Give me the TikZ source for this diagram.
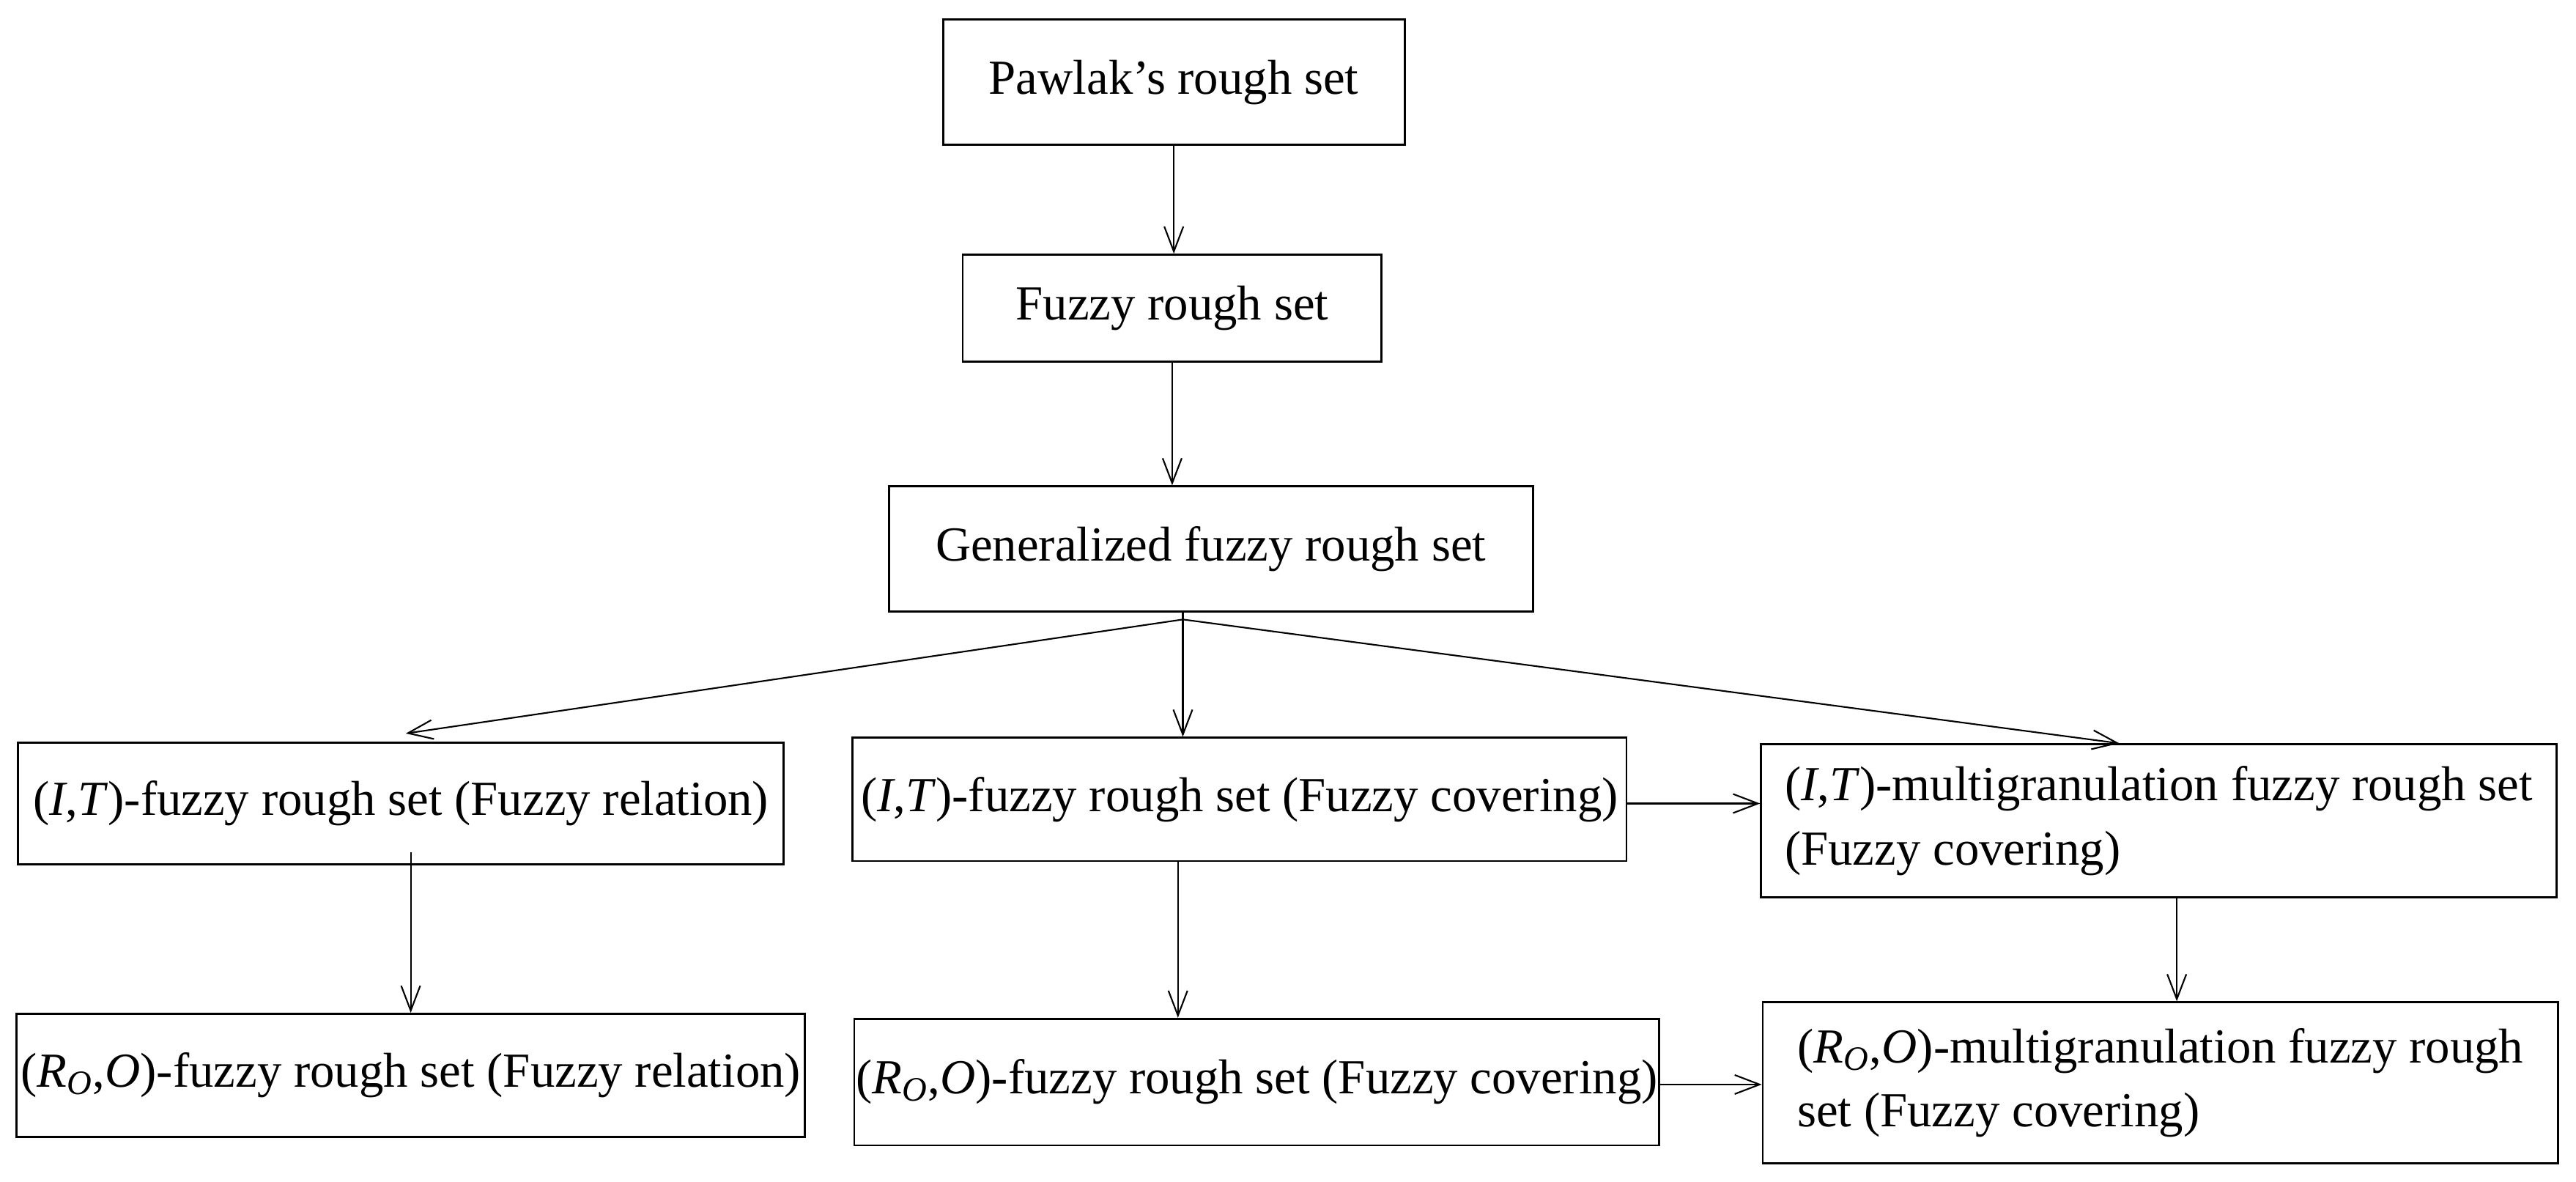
\documentclass[tikz,border=0pt]{standalone}
\usepackage{fontspec}
\setmainfont{Liberation Serif}
\usetikzlibrary{arrows.meta}

\begin{document}
\begin{tikzpicture}[x=0.02242cm, y=-0.02242cm,
  box/.style={draw, line width=0.8pt, inner sep=0pt, font=\fontsize{19}{25}\selectfont},
  arr/.style={line width=0.6pt, -{Straight Barb[length=3.4mm, width=2.6mm]}}]
\useasboundingbox (0,0) rectangle (1568,719);
% top chain
\node[box, minimum width=281*0.02242cm, minimum height=76*0.02242cm] (paw) at (714.5,50) {Pawlak’s rough set};
\node[box, minimum width=255*0.02242cm, minimum height=65*0.02242cm] (fuz) at (713.5,187.5) {Fuzzy rough set};
\node[box, minimum width=392*0.02242cm, minimum height=76*0.02242cm] (gen) at (737,334) {Generalized fuzzy rough set};
% (I,T) row
\node[box, minimum width=466*0.02242cm, minimum height=74*0.02242cm] (itr) at (244,489) {(\textit{I},\textit{T})-fuzzy rough set (Fuzzy relation)};
\node[box, minimum width=471*0.02242cm, minimum height=75*0.02242cm] (itc) at (754.5,486.5) {(\textit{I},\textit{T})-fuzzy rough set (Fuzzy covering)};
\node[box, align=left, minimum width=484*0.02242cm, minimum height=93*0.02242cm] (itm) at (1314,499.5) {(\textit{I},\textit{T})-multigranulation fuzzy rough set\\(Fuzzy covering)};
% (R_O,O) row
\node[box, minimum width=480*0.02242cm, minimum height=75*0.02242cm] (ror) at (250,654.5) {(\textit{R}\textsubscript{\textit{O}},\textit{O})-fuzzy rough set (Fuzzy relation)};
\node[box, minimum width=490*0.02242cm, minimum height=77*0.02242cm] (roc) at (765,658.5) {(\textit{R}\textsubscript{\textit{O}},\textit{O})-fuzzy rough set (Fuzzy covering)};
\node[box, align=left, minimum width=484*0.02242cm, minimum height=98*0.02242cm] (rom) at (1315,659) {(\textit{R}\textsubscript{\textit{O}},\textit{O})-multigranulation fuzzy rough\\set (Fuzzy covering)};
\coordinate (br) at (720,377);
% connectors
\draw[arr] (paw.south) -- (paw.south |- fuz.north);
\draw[arr] (fuz.south) -- (fuz.south |- gen.north);
\draw[line width=0.6pt] (gen.south -| br) -- (br);
\draw[arr] (br) -- ([xshift=3*0.02242cm, yshift=5*0.02242cm]itr.north);
\draw[arr] (br) -- (br |- itc.north);
\draw[arr] (br) -- ([xshift=-24*0.02242cm]itm.north);
\draw[arr] ([yshift=8*0.02242cm]ror.north |- itr.south) -- (ror.north);
\draw[arr] ([xshift=-3*0.02242cm]br |- itc.south) -- ([xshift=-3*0.02242cm]br |- roc.north);
\draw[arr] ([xshift=11*0.02242cm]itm.south) -- ([xshift=11*0.02242cm]itm.south |- rom.north);
\draw[arr] ([yshift=-2.5*0.02242cm]itc.east) -- ([yshift=-2.5*0.02242cm]itc.east -| itm.west);
\draw[arr] ([yshift=-1.5*0.02242cm]roc.east) -- ([yshift=-1.5*0.02242cm]roc.east -| rom.west);
\end{tikzpicture}
\end{document}
